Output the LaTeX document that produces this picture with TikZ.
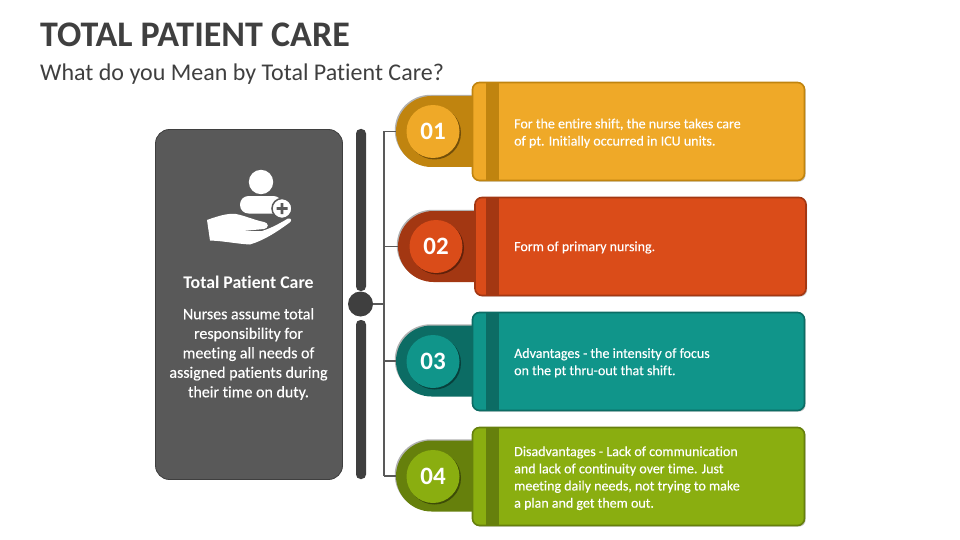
\documentclass[tikz,border=0pt]{standalone}
\usepackage{fontspec}
\setmainfont[Ligatures=NoCommon]{Carlito}
\newfontfamily\heavyfont[Ligatures=NoCommon, FakeBold=.3]{Carlito}
\usetikzlibrary{positioning, shapes.misc, shadows}
\definecolor{amberA}{HTML}{EFA928}
\definecolor{amberB}{HTML}{C0840F}
\definecolor{rustA}{HTML}{DA4C19}
\definecolor{rustB}{HTML}{A33712}
\definecolor{tealA}{HTML}{10958A}
\definecolor{tealB}{HTML}{0C6C64}
\definecolor{oliveA}{HTML}{8AAE10}
\definecolor{oliveB}{HTML}{66800C}
\definecolor{panelgray}{HTML}{595959}
\definecolor{bardark}{HTML}{3F3F3F}
\tikzset{
	tabbox/.style={rounded rectangle, rounded rectangle right arc=none, minimum height=71pt, minimum width=90pt, inner sep=0pt, draw=none,
		drop shadow={shadow xshift=-1.2pt, shadow yshift=1.2pt, fill=black, opacity=.3}},
	cardbox/.style={rectangle, rounded corners=7pt, minimum height=98pt, line width=1.6pt,
		drop shadow={shadow xshift=1.2pt, shadow yshift=-1.2pt, fill=black, opacity=.22}},
	stripbox/.style={rectangle, minimum width=13pt, minimum height=97pt, inner sep=0pt},
	numdisc/.style={circle, minimum size=53pt, inner sep=0pt, text=white, font=\fontsize{25}{25}\selectfont\bfseries,
		drop shadow={shadow xshift=1.5pt, shadow yshift=-1.5pt, fill=black, opacity=.4}},
	cardtext/.style={anchor=west, align=left, text=white, inner sep=0pt, font=\fontsize{14}{17.2}\selectfont\heavyfont},
	wire/.style={draw=panelgray, line width=1.4pt}
}
\begin{document}
\begin{tikzpicture}[x=1pt, y=-1pt]
	\useasboundingbox (0,0) rectangle (960,540);
	\node[anchor=west, inner sep=0pt, text=bardark, font=\fontsize{36}{36}\selectfont\bfseries] (title) at (40,35) {TOTAL PATIENT CARE};
	\node[anchor=west, inner sep=0pt, text=bardark, font=\fontsize{24}{24}\selectfont] (subtitle) at (40,74.5) {What do you Mean by Total Patient Care?};
	% left panel
	\node[draw=bardark, fill=panelgray, line width=.8pt, rounded corners=14pt, minimum width=187pt, minimum height=350pt, inner sep=0pt] (panel) at (249,304.5) {};
	\node[text=white, inner sep=0pt, font=\fontsize{17.8}{20}\selectfont\bfseries] (paneltitle) at (248.5,282.5) {Total Patient Care};
	\node[text=white, inner sep=0pt, align=center, font=\fontsize{16}{19.5}\selectfont\heavyfont] (paneltext) at (248.5,354)
	{Nurses assume total\\responsibility for\\meeting all needs of\\assigned patients during\\their time on duty.};
	% icon
	\fill[white] (261,182) circle (12.2);
	\fill[white, rounded corners=8.5pt] (240,196) rectangle (282,213.5);
	\node[circle, fill=white, draw=panelgray, line width=1.5pt, minimum size=20pt, inner sep=0pt] (plusdisc) at (282,208.5) {};
	\fill[panelgray] (280.6,203) rectangle (283.4,214) (276.5,207.1) rectangle (287.5,209.9);
	\fill[white] (207,220) .. controls (218,216) and (228,213) .. (236,214) .. controls (246,216) and (254,220) .. (264,222)
	.. controls (269,223) and (269,228) .. (264,229) -- (243,231) -- (262,231) .. controls (272,228) and (282,222) .. (288,218.5)
	.. controls (292,218) and (292,221) .. (289,223) .. controls (278,231) and (265,240) .. (250,244.5)
	.. controls (238,244) and (224,241) .. (210,240.5) -- cycle;
	% spine
	\fill[bardark, rounded corners=4.5pt] (356,129) rectangle (366,291);
	\fill[bardark, rounded corners=4.5pt] (356,320) rectangle (366,479);
	\coordinate (spinetop) at (384,131.5);
	\coordinate (spinebot) at (384,476);
	\node[circle, fill=bardark, minimum size=25pt, inner sep=0pt] (hub) at (360.5,304) {};
	\draw[wire] (spinetop) -- (spinebot);
	\draw[wire] (hub) -- (hub -| spinetop);
	% items
	\node[tabbox, fill=amberB] (tab1) at (441,131.5) {};
	\node[tabbox, fill=rustB] (tab2) at (443,246.5) {};
	\node[tabbox, fill=tealB] (tab3) at (441,361) {};
	\node[tabbox, fill=oliveB] (tab4) at (441,476) {};
	\draw[wire] (spinetop) -- (tab1);
	\draw[wire] (spinetop |- tab2) -- (tab2);
	\draw[wire] (spinetop |- tab3) -- (tab3);
	\draw[wire] (spinebot) -- (tab4);
	\node[cardbox, draw=amberB, fill=amberA, minimum width=332pt] (card1) at (638.5,131.5) {};
	\node[cardbox, draw=rustB, fill=rustA, minimum width=331pt] (card2) at (640.5,246.5) {};
	\node[cardbox, draw=tealB, fill=tealA, minimum width=332pt] (card3) at (638.5,361.5) {};
	\node[cardbox, draw=oliveB, fill=oliveA, minimum width=332pt] (card4) at (638.5,476.5) {};
	\node[stripbox, fill=amberB] (strip1) at (492.5,131.5) {};
	\node[stripbox, fill=rustB] (strip2) at (492.5,246.5) {};
	\node[stripbox, fill=tealB] (strip3) at (492.5,361.5) {};
	\node[stripbox, fill=oliveB] (strip4) at (492.5,476.5) {};
	\node[numdisc, fill=amberA] (num1) at (433,131.5) {01};
	\node[numdisc, fill=rustA] (num2) at (436,246.5) {02};
	\node[numdisc, fill=tealA] (num3) at (433,361.5) {03};
	\node[numdisc, fill=oliveA] (num4) at (433,476.5) {04};
	\node[cardtext] (text1) at (514,133.2) {For the entire shift, the nurse takes care\\of pt. Initially occurred in ICU units.};
	\node[cardtext] (text2) at (514,247.5) {Form of primary nursing.};
	\node[cardtext] (text3) at (514,362.8) {Advantages - the intensity of focus\\on the pt thru-out that shift.};
	\node[cardtext] (text4) at (514,478.2) {Disadvantages - Lack of communication\\and lack of continuity over time. Just\\meeting daily needs, not trying to make\\a plan and get them out.};
\end{tikzpicture}
\end{document}
